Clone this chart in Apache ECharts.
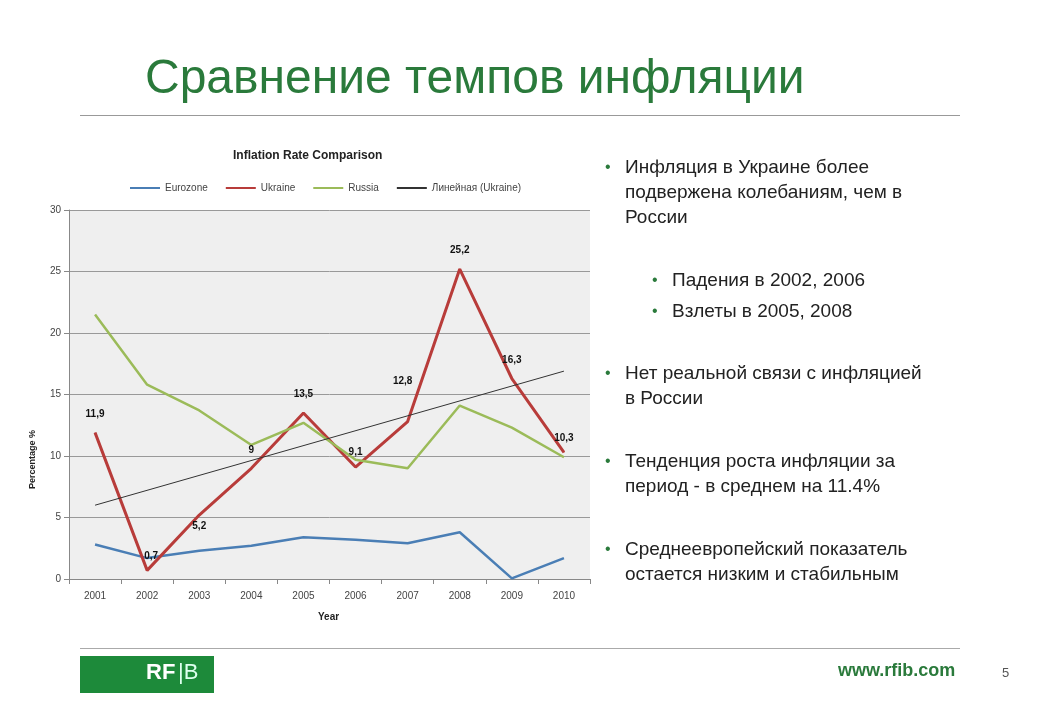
<!DOCTYPE html><html><head><meta charset="utf-8">
<script src="https://cdn.jsdelivr.net/npm/echarts@6/dist/echarts.min.js"></script>
<style>html,body{margin:0;background:#fff}#c{width:1040px;height:720px}</style></head><body><div id="c"></div><script>
const years=['2001','2002','2003','2004','2005','2006','2007','2008','2009','2010'];
const eurozone=[2.8,1.7,2.3,2.7,3.4,3.2,2.9,3.8,0.05,1.7];
const ukraine=[11.9,0.7,5.2,9,13.5,9.1,12.8,25.2,16.3,10.3];
const russia=[21.5,15.8,13.7,10.9,12.7,9.7,9.0,14.1,12.3,9.9];
const trend=[6.0,null,null,null,null,null,null,null,null,16.9];
const bullets=[
 {t:'Инфляция в Украине более\nподвержена колебаниям, чем в\nРоссии',x:625,y:155,b:605},
 {t:'Падения в 2002, 2006',x:672,y:268,b:652},
 {t:'Взлеты в 2005, 2008',x:672,y:299,b:652},
 {t:'Нет реальной связи с инфляцией\nв России',x:625,y:361,b:605},
 {t:'Тенденция роста инфляции за\nпериод - в среднем на 11.4%',x:625,y:449,b:605},
 {t:'Среднеевропейский показатель\nостается низким и стабильным',x:625,y:537,b:605}];
const green='#2a7a3b';
const ch=echarts.init(document.getElementById('c'));
const g=[
 {type:'text',left:145,top:56,style:{text:'Сравнение темпов инфляции',font:'48px "Liberation Sans", Arial',fill:green}},
 {type:'rect',shape:{x:80,y:115,width:880,height:1},style:{fill:'#999'}},
 {type:'rect',shape:{x:80,y:648,width:880,height:1},style:{fill:'#aaa'}},
 {type:'rect',shape:{x:80,y:656,width:134,height:37},style:{fill:'#1d8a3a'}},
 {type:'text',left:146,top:662,style:{text:'RF',font:'bold 22px "Liberation Sans", Arial',fill:'#fff'}},
 {type:'text',left:178,top:662,style:{text:'|B',font:'22px "Liberation Sans", Arial',fill:'#dfe'}},
 {type:'text',left:838,top:662,style:{text:'www.rfib.com',font:'bold 18px "Liberation Sans", Arial',fill:green}},
 {type:'text',left:1002,top:667,style:{text:'5',font:'13px "Liberation Sans", Arial',fill:'#555'}},
 {type:'text',left:233,top:150,style:{text:'Inflation Rate Comparison',font:'bold 12px "Liberation Sans", Arial',fill:'#222'}},
 {type:'text',left:28,top:430,rotation:Math.PI/2,style:{text:'Percentage %',font:'bold 9px "Liberation Sans", Arial',fill:'#222'}},
 {type:'text',left:318,top:612,style:{text:'Year',font:'bold 10px "Liberation Sans", Arial',fill:'#222'}}
];
bullets.forEach(b=>{
 g.push({type:'text',left:b.x,top:b.y,style:{text:b.t,font:'19px "Liberation Sans", Arial',fill:'#222',lineHeight:25}});
 g.push({type:'text',left:b.b,top:b.y,style:{text:'•',font:'16px "Liberation Sans", Arial',fill:green,lineHeight:25}});
});
const lblPos=[[0,-8],[4,-4],[0,22],[0,-8],[0,-8],[0,-4],[-5,-30],[0,-8],[0,-8],[0,-4]];
ch.setOption({
 animation:false,
 graphic:g,
 legend:{top:178,left:125,itemWidth:30,itemHeight:2,itemGap:18,icon:'rect',textStyle:{fontSize:10,color:'#444',fontFamily:'Liberation Sans'},
  data:['Eurozone','Ukraine','Russia','Линейная (Ukraine)']},
 grid:{left:69,top:210,width:521,height:369,backgroundColor:'#efefef',show:true,borderWidth:0},
 xAxis:{type:'category',data:years,boundaryGap:true,axisLine:{lineStyle:{color:'#888'}},axisTick:{show:true,lineStyle:{color:'#888'}},
  axisLabel:{fontSize:10,color:'#444',margin:12}},
 yAxis:{type:'value',min:0,max:30,interval:5,axisLine:{show:true,lineStyle:{color:'#888'}},axisTick:{show:true,lineStyle:{color:'#888'}},
  splitLine:{lineStyle:{color:'#999'}},axisLabel:{fontSize:10,color:'#444'}},
 series:[
  {name:'Eurozone',type:'line',data:eurozone,symbol:'none',lineStyle:{width:2.5,color:'#4a7eb5'},itemStyle:{color:'#4a7eb5'}},
  {name:'Ukraine',type:'line',data:ukraine.map((v,i)=>({value:v,label:{show:true,offset:lblPos[i]}})),symbol:'circle',symbolSize:1,showSymbol:true,lineStyle:{width:3,color:'#b83c3a'},itemStyle:{color:'#b83c3a'},
   label:{show:true,position:'top',fontSize:10,fontWeight:'bold',color:'#111',formatter:p=>String(p.value).replace('.',',')}},
  {name:'Russia',type:'line',data:russia,symbol:'none',lineStyle:{width:2.5,color:'#9bbb59'},itemStyle:{color:'#9bbb59'}},
  {name:'Линейная (Ukraine)',type:'line',data:trend,connectNulls:true,symbol:'none',lineStyle:{width:1,color:'#333'},itemStyle:{color:'#333'}}
 ]
});
</script></body></html>
